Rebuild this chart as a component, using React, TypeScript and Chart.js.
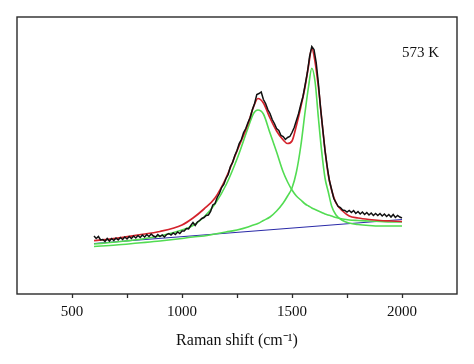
import React, { useEffect, useRef } from "react";
import { Chart, registerables } from "chart.js";

Chart.register(...registerables);

// Measured spectrum (Raman shift in cm^-1, intensity in a.u.)
const dataWave: number[] = [
  600, 610, 620, 630, 640, 650, 660, 670, 680, 690, 700, 710, 720, 730, 740, 750, 760, 770, 780, 790,
  800, 810, 820, 830, 840, 850, 860, 870, 880, 890, 900, 910, 920, 930, 940, 950, 960, 970, 980, 990,
  1000, 1010, 1020, 1030, 1040, 1050, 1060, 1070, 1080, 1090, 1100, 1110, 1120, 1130, 1140, 1150, 1160, 1170, 1180, 1190,
  1200, 1210, 1220, 1230, 1240, 1250, 1260, 1270, 1280, 1290, 1300, 1310, 1320, 1330, 1340, 1350, 1360, 1370, 1380, 1390,
  1400, 1410, 1420, 1430, 1440, 1450, 1460, 1470, 1480, 1490, 1500, 1510, 1520, 1530, 1540, 1550, 1560, 1570, 1580, 1590,
  1600, 1610, 1620, 1630, 1640, 1650, 1660, 1670, 1680, 1690, 1700, 1710, 1720, 1730, 1740, 1750, 1760, 1770, 1780, 1790,
  1800, 1810, 1820, 1830, 1840, 1850, 1860, 1870, 1880, 1890, 1900, 1910, 1920, 1930, 1940, 1950, 1960, 1970, 1980, 1990,
  2000,
];
const dataIntensity: number[] = [
  58, 55.5, 57.5, 54, 54.5, 52.5, 55.5, 53, 55.5, 53.5, 56, 54, 56.5, 54.5, 57, 55, 57.5, 55.5, 58, 56,
  58.5, 56.5, 59, 57, 59.5, 57.5, 60, 58, 57, 59.5, 57.5, 59, 57, 59.5, 60.5, 59, 61, 59.5, 62, 60.5,
  63, 63, 65.5, 65, 68.5, 71.5, 68.5, 72, 73.5, 75.5, 76.5, 78.5, 79, 82.5, 89, 90.5, 96.5, 100.5, 106.5, 109.5,
  115.5, 119.5, 127.5, 131.5, 138.5, 143.5, 150.5, 154.5, 161.5, 165.5, 171.5, 176.5, 184.5, 190.5, 199.5, 200.5, 202, 194.5, 190.5, 184.5,
  180.5, 174.5, 170.5, 165.5, 163.5, 158.5, 157.5, 154.5, 156.5, 157.5, 161.5, 166.5, 173.5, 180.5, 189.5, 197.5, 209.5, 221.5, 237.5, 247.5,
  244.5, 231.5, 210.5, 185.5, 164.5, 143.5, 127.5, 113.5, 104.5, 95.5, 91.5, 87.5, 86.5, 84, 83.5, 82, 83.5, 81.5, 83.5, 80.5,
  82.5, 80, 82, 79.5, 81.5, 79, 81, 78.5, 80.5, 78.5, 80.5, 78, 80, 77.5, 79.5, 77, 79.5, 76.5, 78.5, 77,
  76,
];

// Fitted curves
const fitWave: number[] = [
  600, 700, 800, 900, 1000, 1050, 1100, 1150, 1200, 1250, 1300, 1325, 1345, 1370, 1400, 1430, 1460, 1480, 1500,
  1520, 1540, 1560, 1575, 1590, 1605, 1620, 1635, 1650, 1665, 1680, 1700, 1730, 1760, 1800, 1850, 1900, 1950, 2000,
];
const fitTotal: number[] = [
  53.3, 55.7, 59, 62.5, 69, 76, 85, 96, 116, 143, 170, 187, 195.5, 191, 176, 163, 154, 150.5, 153,
  168.5, 187, 208, 228, 245.5, 232, 207, 175, 144, 119, 104, 91, 83, 78, 76, 74.5, 73.5, 73, 72.5,
];
const peakD: number[] = [
  50, 52, 54.5, 58, 64, 68.5, 77, 90, 109, 135, 166, 180.5, 184, 180, 161, 142, 122, 112, 104,
  98, 94, 90, 88, 86, 84.5, 83, 81.5, 80, 79, 78, 76.5, 75, 74, 73.5, 73, 72.5, 72, 72,
];
const peakG: number[] = [
  47.5, 49, 51, 53, 55.5, 57, 58, 60, 62, 64, 67, 69, 70.5, 73.5, 77, 83, 91, 98, 106,
  122, 148, 183, 207, 225.7, 212, 176, 142.3, 116, 102, 88, 79, 73.5, 71, 69.5, 68.5, 68, 68, 68,
];

// Linear background
const baseWave: number[] = [600, 2000];
const baseIntensity: number[] = [50.5, 74.5];

const xTicks: number[] = [500, 1000, 1500, 2000];
const sampleLabel = "573 K";

const pts = (xs: number[], ys: number[]) => xs.map((x, i) => ({ x, y: ys[i] }));

const framePlugin = {
  id: "frameAndLabel",
  afterDraw(chart: any) {
    const { ctx, chartArea } = chart;
    ctx.save();
    ctx.strokeStyle = "#2a2a2a";
    ctx.lineWidth = 1.4;
    ctx.strokeRect(chartArea.left, chartArea.top, chartArea.right - chartArea.left, chartArea.bottom - chartArea.top);
    ctx.fillStyle = "#111";
    ctx.font = '15px "Liberation Serif", serif';
    ctx.textAlign = "right";
    ctx.textBaseline = "middle";
    ctx.fillText(sampleLabel, chartArea.right - 18, chartArea.top + 36);
    ctx.restore();
  },
};

export default function App() {
  const ref = useRef<HTMLCanvasElement>(null);
  useEffect(() => {
    if (!ref.current) return;
    const chart = new Chart(ref.current, {
      type: "line",
      data: {
        datasets: [
          {
            data: pts(dataWave, dataIntensity),
            borderColor: "#111111",
            borderWidth: 1.5,
            pointRadius: 0,
            tension: 0,
          },
          {
            data: pts(fitWave, fitTotal),
            borderColor: "#d4232c",
            borderWidth: 1.7,
            pointRadius: 0,
            cubicInterpolationMode: "monotone",
          },
          {
            data: pts(fitWave, peakD),
            borderColor: "#52dc52",
            borderWidth: 1.6,
            pointRadius: 0,
            cubicInterpolationMode: "monotone",
          },
          {
            data: pts(fitWave, peakG),
            borderColor: "#52dc52",
            borderWidth: 1.6,
            pointRadius: 0,
            cubicInterpolationMode: "monotone",
          },
          {
            data: pts(baseWave, baseIntensity),
            borderColor: "#2b2ba8",
            borderWidth: 1.2,
            pointRadius: 0,
          },
        ],
      } as any,
      options: {
        animation: false,
        responsive: false,
        devicePixelRatio: 1,
        layout: { padding: { left: 17, right: 17, top: 17, bottom: 0 } },
        plugins: { legend: { display: false }, tooltip: { enabled: false }, title: { display: false } },
        scales: {
          x: {
            type: "linear",
            min: 250,
            max: 2250,
            afterBuildTicks: (scale: any) => {
              const t: any[] = [];
              for (let v = 250; v <= 2250; v += 250) t.push({ value: v });
              scale.ticks = t;
            },
            afterFit: (scale: any) => {
              scale.height = 70;
            },
            border: { display: false },
            grid: {
              drawOnChartArea: false,
              drawTicks: true,
              tickLength: 4,
              tickColor: (c: any) => (c.tick && (c.tick.value === 250 || c.tick.value === 2250) ? "rgba(0,0,0,0)" : "#2a2a2a"),
              tickWidth: 1.3,
            },
            ticks: {
              color: "#111",
              padding: 5,
              maxRotation: 0,
              autoSkip: false,
              font: { family: '"Liberation Serif", serif', size: 15 },
              callback: (v: any) => (xTicks.includes(Number(v)) ? String(v) : ""),
            },
            title: {
              display: true,
              text: "Raman shift (cm\u207B\u00B9)",
              color: "#111",
              font: { family: '"Liberation Serif", serif', size: 16 },
              padding: { top: 0, bottom: 14 },
            },
          },
          y: {
            type: "linear",
            display: false,
            min: 0,
            max: 277,
          },
        },
      } as any,
      plugins: [framePlugin],
    });
    return () => chart.destroy();
  }, []);
  return (
    <div style={{ position: "fixed", left: 0, top: 0, width: 474, height: 364, background: "#fff" }}>
      <canvas ref={ref} width={474} height={364} />
    </div>
  );
}
